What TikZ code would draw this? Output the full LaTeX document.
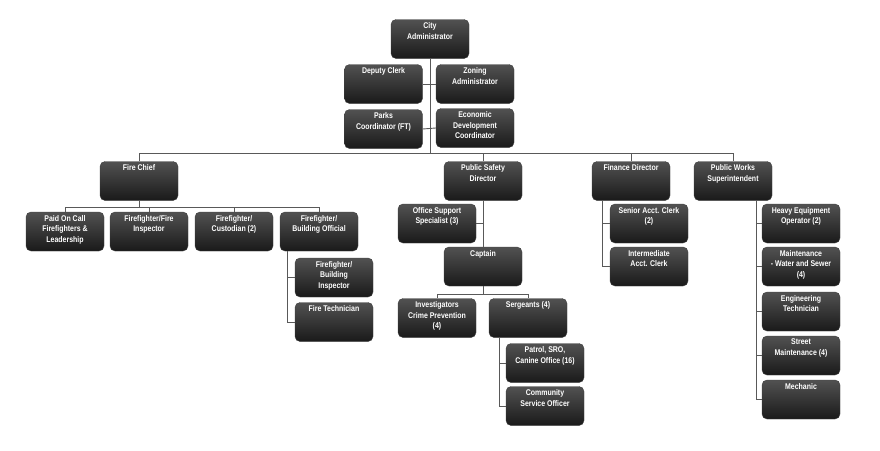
\documentclass[tikz,border=0pt]{standalone}
\usepackage{fontspec}
\setmainfont{Liberation Sans}[FakeStretch=0.84]
\begin{document}
\begin{tikzpicture}[x=1pt,y=-1pt,
  bx/.style={rounded corners=5pt, top color=black!68, bottom color=black!90, draw=black!75, line width=0.4pt,
    minimum width=78pt, minimum height=39pt, inner sep=0pt, text=white,
    font=\fontsize{8.3}{10.6}\selectfont\bfseries},
  ln/.style={draw=black!65, line width=0.9pt}]
\newcommand\ob[4]{\node[bx] (#1) at (#2,#3) {\parbox[c][33pt][t]{76pt}{\centering #4}};}
\useasboundingbox (0,0) rectangle (880,450);
\fill[white] (0,0) rectangle (880,450);
% connectors (drawn first)
\coordinate (top) at (0,153);
\ob{ca}{430}{39}{City\\Administrator}
\ob{dc}{383.5}{84}{Deputy Clerk}
\ob{zn}{475}{84}{Zoning\\Administrator}
\ob{pk}{383.5}{129}{Parks\\Coordinator (FT)}
\ob{ec}{475}{128}{Economic\\Development\\Coordinator}
\ob{fc}{139}{181}{Fire Chief}
\ob{psd}{483}{181}{Public Safety\\Director}
\ob{fin}{631}{181}{Finance Director}
\ob{pw}{733}{181}{Public Works\\Superintendent}
\ob{p1}{65}{231.5}{Paid On Call\\Firefighters \&\\Leadership}
\ob{p2}{149}{231.5}{Firefighter/Fire\\Inspector}
\ob{p3}{234}{231.5}{Firefighter/\\Custodian (2)}
\ob{p4}{319}{231.5}{Firefighter/\\Building Official}
\ob{bi}{334}{277.5}{Firefighter/\\Building\\Inspector}
\ob{ft}{334}{322}{Fire Technician}
\ob{os}{437}{223.5}{Office Support\\Specialist (3)}
\ob{cap}{483}{266.5}{Captain}
\ob{inv}{437}{318}{Investigators\\Crime Prevention\\(4)}
\ob{sg}{528}{318}{Sergeants (4)}
\ob{pt}{545}{363}{Patrol, SRO,\\Canine Office (16)}
\ob{cso}{545}{406}{Community\\Service Officer}
\ob{sac}{649}{223.5}{Senior Acct. Clerk\\(2)}
\ob{iac}{649}{266.5}{Intermediate\\Acct. Clerk}
\ob{hv}{801}{223.5}{Heavy Equipment\\Operator (2)}
\ob{mw}{801}{266.5}{Maintenance\\- Water and Sewer\\(4)}
\ob{en}{801}{311.5}{Engineering\\Technician}
\ob{st}{801}{355.5}{Street\\Maintenance (4)}
\ob{mc}{801}{399.5}{Mechanic}
\begin{scope}[on background layer/.style={}]
\end{scope}
\path[ln] (ca.south) -- (ca.south |- top);
\path[ln] (dc.east) -- (zn.west);
\path[ln] (pk.east) -- (ec.west);
\path[ln] (fc.north) -- (fc.north |- top) -- (pw.north |- top) -- (pw.north);
\path[ln] (psd.north) -- (psd.north |- top);
\path[ln] (fin.north) -- (fin.north |- top);
\path[ln] (fc.south) -- ++(0,7) -| (p1.north);
\path[ln] (fc.south) -- ++(0,7) -| (p4.north);
\path[ln] (p2.north) -- ++(0,-4);
\path[ln] (p3.north) -- ++(0,-4);
\path[ln] ([xshift=8pt]p4.south west) |- (ft.west);
\path[ln] ([xshift=8pt]p4.south west) |- (bi.west);
\path[ln] (psd.south) -- (cap.north);
\path[ln] (os.east) -- (os.east -| psd.south);
\path[ln] (cap.south) -- ++(0,8) -| (inv.north);
\path[ln] (cap.south) -- ++(0,8) -| (sg.north);
\path[ln] ([xshift=11pt]sg.south west) |- (cso.west);
\path[ln] ([xshift=11pt]sg.south west) |- (pt.west);
\path[ln] ([xshift=11pt]fin.south west) |- (iac.west);
\path[ln] ([xshift=11pt]fin.south west) |- (sac.west);
\path[ln] ([xshift=-16pt]pw.south east) |- (mc.west);
\foreach \n in {hv,mw,en,st} \path[ln] (\n.west) -- (\n.west -| mc.west) -- ++(-6,0);
\end{tikzpicture}
\end{document}
